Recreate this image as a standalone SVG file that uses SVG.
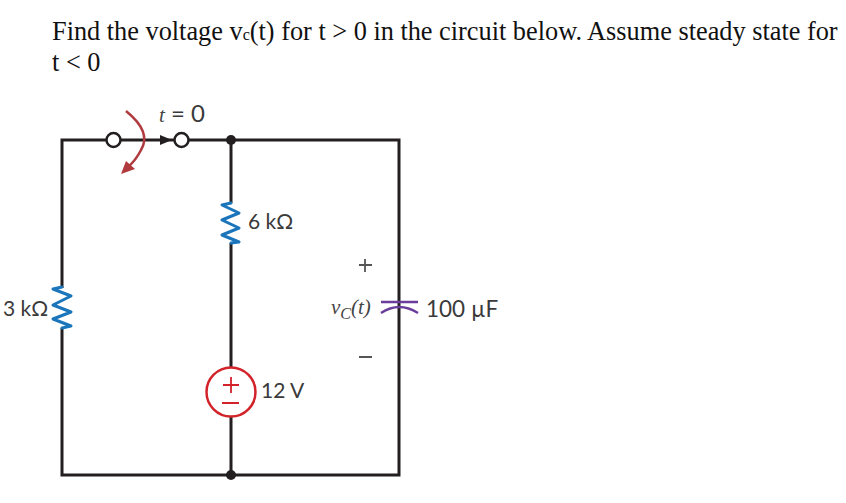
<svg xmlns="http://www.w3.org/2000/svg" width="846" height="503" viewBox="0 0 846 503">
<style>
.w{fill:none;stroke:#231f20;stroke-width:3}
.r{fill:none;stroke:#1b75bb;stroke-width:3;stroke-linejoin:round;stroke-linecap:round}
.q{font-family:"Liberation Serif",serif;font-size:26.300px;fill:#111}
.l{font-family:"Lato","Open Sans",sans-serif;font-size:21px;fill:#3a3a3a}
.i{font-family:"Liberation Serif",serif;font-size:21px;font-style:italic;fill:#444}
.dot{fill:#231f20}
.sw{fill:#fff;stroke:#231f20;stroke-width:2.5}
</style>
<rect width="846" height="503" fill="#fff"/>
<g id="question">
<text class="q" x="52" y="40">Find the voltage v<tspan font-size="16">c</tspan>(t) for t &gt; 0 in the circuit below. Assume steady state for</text>
<text class="q" x="52" y="71">t &lt; 0</text>
</g>
<g id="connectors">
<path class="w" d="M62 288V140H107M119 140H175M187 140H399V475H62V328"/>
<path class="w" d="M231 140V203M231 243V367M231 417V475"/>
</g>
<g id="switch">
<circle class="sw" cx="113.500" cy="140" r="7"/>
<circle class="sw" cx="181.500" cy="140" r="7"/>
<path d="M160 135L172 140L160 145Z" fill="#231f20"/>
<path d="M126 111Q152 132 141 150Q136 160 128 167" fill="none" stroke="#b03a3e" stroke-width="2.500"/>
<path d="M121 174L126 161L135 169Z" fill="#b03a3e"/>
<text class="l" x="159" y="122" font-size="24" style="font-size:24px"><tspan class="i">t</tspan> = 0</text>
</g>
<g id="junction-top"><circle class="dot" cx="231" cy="140" r="5"/></g>
<g id="junction-bottom"><circle class="dot" cx="231" cy="475" r="5"/></g>
<g id="resistor-6k">
<path class="r" d="M231 203L222 205L239 213L222 220L239 228L222 235L239 242L231 243"/>
<text class="l" x="248" y="229">6 kΩ</text>
</g>
<g id="resistor-3k">
<path class="r" d="M62 287L53 289L71 296L53 305L71 312L53 319L71 326L62 328"/>
<text class="l" x="3" y="316">3 kΩ</text>
</g>
<g id="source">
<circle cx="231" cy="392" r="24.500" fill="#fff" stroke="#d2232a" stroke-width="2.500"/>
<path d="M231 377V393M223 385H239M222 403H239" fill="none" stroke="#d2232a" stroke-width="1.800"/>
<text class="l" x="261" y="398">12 V</text>
</g>
<g id="capacitor">
<path d="M381 302H418M381 313Q399 301 418 313" fill="none" stroke="#6a3d9a" stroke-width="2.500"/>
<text class="l" x="426" y="317" style="font-size:22.500px">100 µF</text>
<text class="i" x="331" y="314">v<tspan font-size="16" dy="5">C</tspan><tspan dy="-5">(t)</tspan></text>
<path d="M365 259V272M359 265H372M359 357H372" fill="none" stroke="#555" stroke-width="1.800"/>
</g>
</svg>
